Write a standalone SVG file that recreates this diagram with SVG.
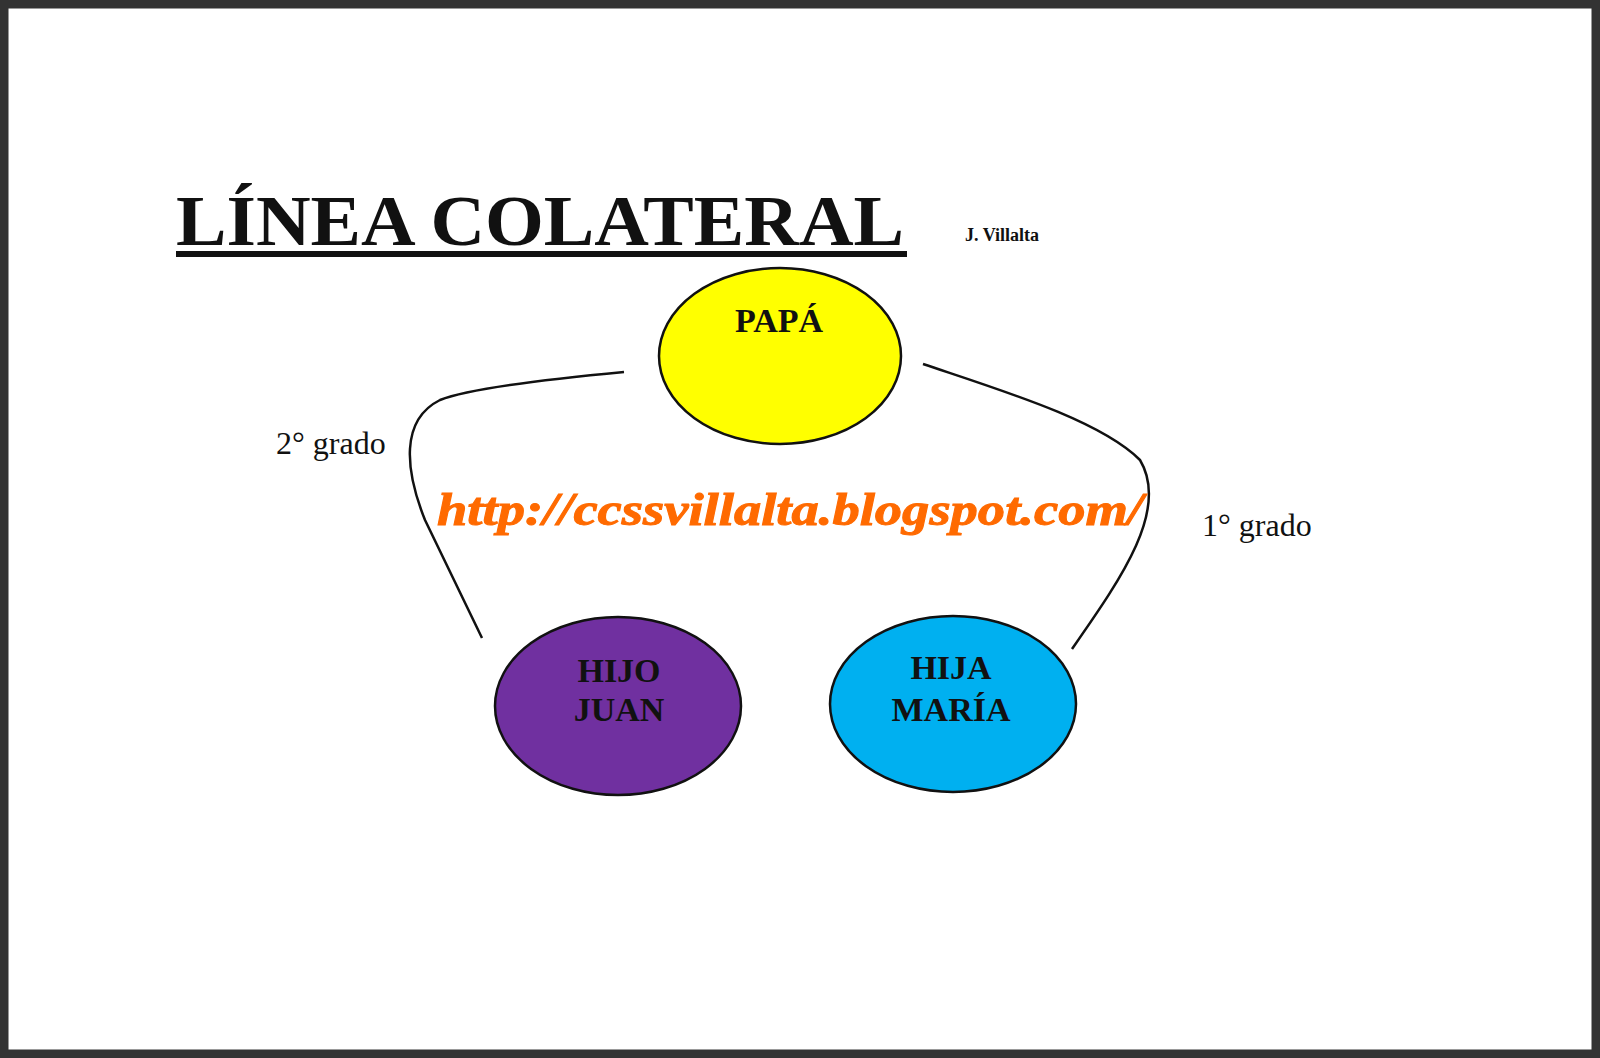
<svg xmlns="http://www.w3.org/2000/svg" width="1600" height="1058" viewBox="0 0 1600 1058">
<style>
.lbl{font-family:"Liberation Serif",serif;font-weight:bold;font-size:34px;fill:#111;text-anchor:middle}
.grd{font-family:"Liberation Serif",serif;font-size:32px;fill:#111}
.ell{stroke:#111;stroke-width:2.5}
.con{fill:none;stroke:#111;stroke-width:2.5}
</style>
<rect x="0" y="0" width="1600" height="1058" fill="#fff"/>
<rect x="4" y="4" width="1592" height="1050" fill="none" stroke="#333" stroke-width="9"/>
<text x="176" y="245" font-family="Liberation Serif,serif" font-weight="bold" font-size="72" textLength="728" lengthAdjust="spacingAndGlyphs" fill="#111">LÍNEA COLATERAL</text>
<rect x="176" y="251" width="731" height="6" fill="#111"/>
<text x="965" y="241" font-family="Liberation Serif,serif" font-weight="bold" font-size="18" fill="#111">J. Villalta</text>
<g id="connectors">
<path class="con" d="M624,372 C560,378 470,388 440,400 C400,420 405,470 425,520 L482,638"/>
<path class="con" d="M923,364 C1000,390 1100,420 1140,460 C1170,510 1120,580 1072,649"/>
</g>
<g id="papa"><ellipse class="ell" cx="780" cy="356" rx="121" ry="88" fill="#ffff00"/><text class="lbl" x="779" y="332">PAPÁ</text></g>
<g id="hijo"><ellipse class="ell" cx="618" cy="706" rx="123" ry="89" fill="#7030a0"/><text class="lbl" x="619" y="682">HIJO</text><text class="lbl" x="619" y="721">JUAN</text></g>
<g id="hija"><ellipse class="ell" cx="953" cy="704" rx="123" ry="88" fill="#00b0f0"/><text class="lbl" x="951" y="679">HIJA</text><text class="lbl" x="951" y="721">MARÍA</text></g>
<text class="grd" x="276" y="454">2° grado</text>
<text class="grd" x="1202" y="536">1° grado</text>
<text x="437" y="525" font-family="Liberation Serif,serif" font-weight="bold" font-style="italic" font-size="46" fill="#ff6a00" stroke="#ff6a00" stroke-width="1" textLength="706" lengthAdjust="spacingAndGlyphs">http://ccssvillalta.blogspot.com/</text>
</svg>
